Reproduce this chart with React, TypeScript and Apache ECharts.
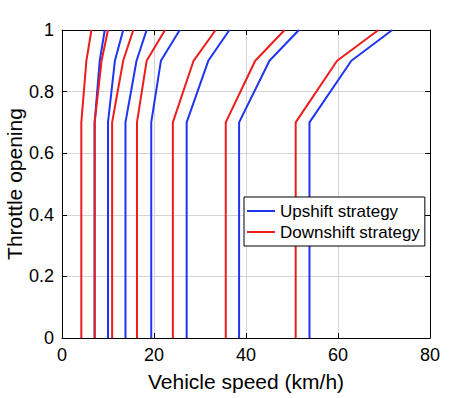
import React, { useEffect, useRef } from "react";
import * as echarts from "echarts";

// Throttle opening levels at which each shift line is defined
const throttle = [0, 0.7, 0.9, 1.0];

// Upshift lines (km/h) at each throttle level: 1->2 ... 7->8
const up1 = [7.1, 7.1, 8.2, 9.3];
const up2 = [10.0, 10.0, 11.5, 13.3];
const up3 = [13.8, 13.8, 16.2, 18.4];
const up4 = [19.4, 19.4, 21.5, 25.6];
const up5 = [27.1, 27.1, 31.8, 36.4];
const up6 = [38.5, 38.5, 45.1, 51.5];
const up7 = [53.8, 53.8, 62.9, 71.8];

// Downshift lines (km/h)
const down1 = [4.2, 4.2, 5.3, 6.4];
const down2 = [7.1, 7.1, 8.6, 10.0];
const down3 = [10.9, 10.9, 13.3, 15.5];
const down4 = [16.3, 16.3, 18.4, 22.4];
const down5 = [24.1, 24.1, 28.6, 33.4];
const down6 = [35.6, 35.6, 42.0, 48.4];
const down7 = [50.8, 50.8, 59.8, 68.8];

const upLines = [up1, up2, up3, up4, up5, up6, up7];
const downLines = [down1, down2, down3, down4, down5, down6, down7];

const upName = "Upshift strategy";
const downName = "Downshift strategy";
const xTicks = { min: 0, max: 80, interval: 20 };
const yTicks = { min: 0, max: 1, interval: 0.2 };

const BLUE = "#1f35f0";
const RED = "#ee1c1c";
const FONT = "Liberation Sans, Arial, sans-serif";

export default function App() {
  const ref = useRef<HTMLDivElement>(null);
  useEffect(() => {
    if (!ref.current) return;
    const chart = echarts.init(ref.current, null, { renderer: "svg" });
    const mk = (arr: number[], name: string, color: string) => ({
      type: "line",
      name,
      data: arr.map((s, i) => [s, throttle[i]]),
      showSymbol: false,
      symbol: "none",
      lineStyle: { color, width: 2 },
      itemStyle: { color },
      xAxisIndex: 0,
      yAxisIndex: 0,
    });
    const series: any[] = [];
    upLines.forEach((a) => series.push(mk(a, upName, BLUE)));
    downLines.forEach((a) => series.push(mk(a, downName, RED)));

    const gridLine = { show: true, lineStyle: { color: "#d4d4d4", width: 1 } };
    const tick = { show: true, inside: true, length: 5, lineStyle: { color: "#000" } };
    const axisLine = { show: true, onZero: false, lineStyle: { color: "#000", width: 1 } };

    chart.setOption({
      animation: false,
      backgroundColor: "#fff",
      textStyle: { fontFamily: FONT },
      grid: {
        left: 62,
        top: 30,
        right: 44,
        bottom: 60,
        containLabel: false,
        outerBoundsMode: "none",
      },
      legend: {
        data: [upName, downName],
        orient: "vertical",
        left: 244,
        top: 197,
        backgroundColor: "#fff",
        borderColor: "#000",
        borderWidth: 1,
        borderRadius: 0,
        padding: [4, 5, 4, 3],
        itemGap: 1,
        itemWidth: 28,
        itemHeight: 2,
        icon: "rect",
        textStyle: { fontSize: 17, color: "#000", fontFamily: FONT, lineHeight: 20 },
      },
      xAxis: [
        {
          type: "value",
          ...xTicks,
          position: "bottom",
          name: "Vehicle speed (km/h)",
          nameLocation: "middle",
          nameGap: 33,
          nameMoveOverlap: false,
          nameTextStyle: { fontSize: 21, color: "#000", fontFamily: FONT },
          axisLine,
          axisTick: tick,
          splitLine: gridLine,
          axisLabel: { fontSize: 18, color: "#000", margin: 8, fontFamily: FONT },
        },
        {
          type: "value",
          ...xTicks,
          position: "top",
          axisLine,
          axisTick: tick,
          splitLine: { show: false },
          axisLabel: { show: false },
        },
      ],
      yAxis: [
        {
          type: "value",
          ...yTicks,
          position: "left",
          name: "Throttle opening",
          nameLocation: "middle",
          nameGap: 37,
          nameMoveOverlap: false,
          nameRotate: 90,
          nameTextStyle: { fontSize: 21, color: "#000", fontFamily: FONT },
          axisLine,
          axisTick: tick,
          splitLine: gridLine,
          axisLabel: {
            fontSize: 18,
            color: "#000",
            margin: 8,
            fontFamily: FONT,
            formatter: (v: number) => String(Math.round(v * 10) / 10),
          },
        },
        {
          type: "value",
          ...yTicks,
          position: "right",
          axisLine,
          axisTick: tick,
          splitLine: { show: false },
          axisLabel: { show: false },
        },
      ],
      series,
    });
    return () => chart.dispose();
  }, []);
  return (
    <div
      ref={ref}
      style={{ position: "fixed", left: 0, top: 0, width: 474, height: 398 }}
    />
  );
}
